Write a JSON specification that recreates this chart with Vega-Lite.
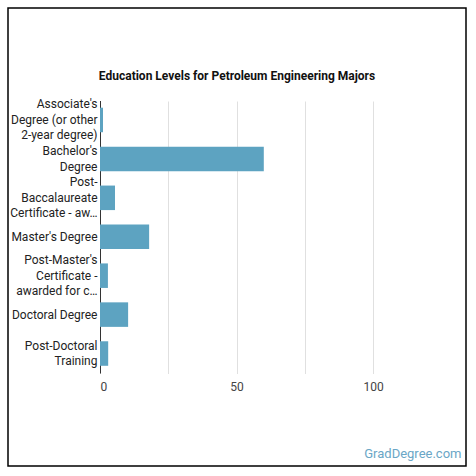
{
  "$schema": "https://vega.github.io/schema/vega-lite/v6.json",
  "width": 458,
  "height": 458,
  "autosize": "none",
  "padding": {"left": 8, "top": 8, "right": 10, "bottom": 10},
  "background": "#ffffff",
  "title": {
    "text": "Education Levels for Petroleum Engineering Majors",
    "font": "Roboto",
    "fontSize": 12,
    "fontWeight": "bold",
    "color": "#111111",
    "anchor": "middle",
    "frame": "group",
    "baseline": "alphabetic",
    "offset": -84
  },
  "data": {
    "values": [
      {"level": "Associate's|Degree (or other|2-year degree)", "pct": 1.1},
      {"level": "Bachelor's|Degree", "pct": 60},
      {"level": "Post-|Baccalaureate|Certificate - aw…", "pct": 5.5},
      {"level": "Master's Degree", "pct": 18},
      {"level": "Post-Master's|Certificate -|awarded for c…", "pct": 2.9},
      {"level": "Doctoral Degree", "pct": 10.3},
      {"level": "Post-Doctoral|Training", "pct": 3}
    ]
  },
  "mark": {"type": "bar", "color": "#5da3c1"},
  "encoding": {
    "y": {
      "field": "level",
      "type": "nominal",
      "sort": null,
      "scale": {"range": [92.5, 365], "paddingInner": 0.37, "paddingOuter": 0.185},
      "axis": {
        "title": null,
        "orient": "left",
        "offset": -92,
        "ticks": false,
        "grid": false,
        "domainColor": "#333333",
        "domainWidth": 1,
        "labelPadding": 3,
        "labelFont": "Roboto",
        "labelFontSize": 12,
        "labelColor": "#222222",
        "labelLineHeight": 15.5,
        "labelLimit": 200,
        "labelBaseline": "middle",
        "labelOffset": {"expr": "-(length(split(datum.label, '|')) - 1) * 7.75"},
        "labelExpr": "split(datum.label, '|')"
      }
    },
    "x": {
      "field": "pct",
      "type": "quantitative",
      "scale": {"domain": [0, 125], "range": [92, 433.25], "nice": false},
      "axis": {
        "title": "GradDegree.com",
        "orient": "bottom",
        "offset": -93,
        "values": [0, 25, 50, 75, 100],
        "labelExpr": "datum.value % 50 == 0 ? datum.label : ''",
        "domain": false,
        "ticks": false,
        "grid": true,
        "gridColor": "#e0e0e0",
        "gridWidth": 1,
        "labelPadding": 8,
        "labelFont": "Roboto",
        "labelFontSize": 12,
        "labelColor": "#444444",
        "titleFont": "Roboto",
        "titleFontSize": 13,
        "titleFontWeight": "normal",
        "titleColor": "#6aa6c6",
        "titleAlign": "right",
        "titleBaseline": "alphabetic",
        "titleX": 453,
        "titleY": 84
      }
    }
  },
  "config": {
    "view": {"stroke": "#000000", "strokeWidth": 1.5}
  }
}
